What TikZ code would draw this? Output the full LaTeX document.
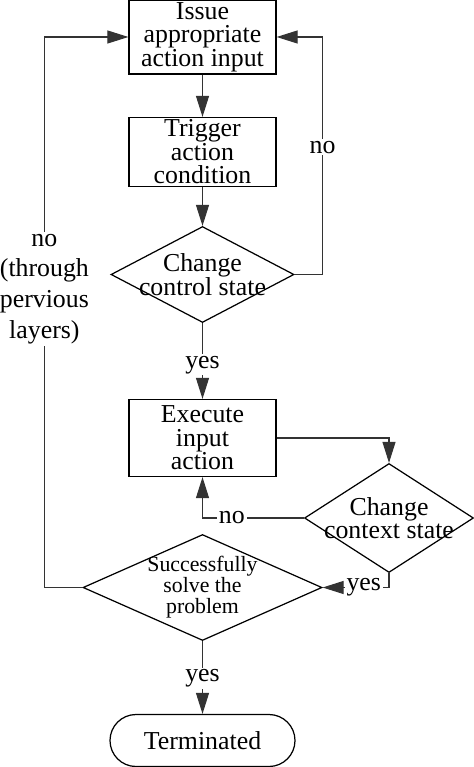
\documentclass[tikz,border=0pt]{standalone}
\usepackage{fontspec}
\setmainfont{Liberation Serif}
\usetikzlibrary{shapes.geometric,arrows.meta,positioning}

\begin{document}
\begin{tikzpicture}[>={Triangle[length=4.2mm,width=2.6mm]}, node distance=2.3cm,
	every node/.style={font=\fontsize{14.7pt}{13.4pt}\selectfont, align=center},
	block/.style={draw, line width=0.7pt, minimum width=2.94cm, inner sep=0pt},
	decision/.style={draw, diamond, line width=0.7pt, inner sep=0pt},
	tag/.style={fill=white, inner sep=1pt},
	flow/.style={->, draw=black!80, line width=0.6pt}]
	\useasboundingbox (0,0) rectangle (9.48,-15.34);
	
	% Bloques
	\node[block, minimum height=1.48cm] (issue) at (4.05,-0.74) {Issue\\appropriate\\action input};
	\node[block, minimum height=1.38cm, below of=issue] (trigger) {Trigger\\action\\condition};
	\node[decision, minimum width=3.66cm, minimum height=1.92cm, below of=trigger, yshift=-0.15cm] (control) {};
	\node (controltext) at (control) {Change\\control state};
	\node[block, minimum height=1.54cm, below of=control, yshift=-0.97cm] (execute) {Execute\\input\\action};
	\node[decision, minimum width=3.38cm, minimum height=2.18cm, right of=execute, xshift=1.43cm, yshift=-1.6cm] (context) {};
	\node (contexttext) at (context) {Change\\context state};
	\node[decision, minimum width=4.78cm, minimum height=2.12cm, below of=execute, yshift=-0.69cm] (solve) {};
	\node[font=\fontsize{12.4pt}{11.9pt}\selectfont] (solvetext) at (solve) {Successfully\\solve the\\problem};
	\node[draw, line width=0.7pt, rounded corners=0.52cm, minimum width=3.7cm, minimum height=1.04cm, below of=solve, yshift=-0.76cm] (term) {Terminated};
	
	% Conexiones
	\draw[flow] (issue) -- (trigger);
	\draw[flow] (trigger) -- (control);
	\draw[flow] (control.east) -- ++(0.56,0) |- (issue.east) node[tag, pos=0.268] {no};
	\draw[flow] (control) -- (execute) node[tag, pos=0.55] {yes};
	\draw[flow] (execute.east) -| (context.north);
	\draw[flow] (context.west) -| (execute.south) node[tag, pos=0.355] {no};
	\draw[flow] (context.south) |- (solve.east) node[tag, pos=0.69] {yes};
	\draw[flow] (solve.west) -- ++(-0.76,0) |- (issue.west) node[tag, pos=0.271, font=\fontsize{14.7pt}{17.6pt}\selectfont] {no\\(through\\pervious\\layers)};
	\draw[flow] (solve) -- (term) node[tag, pos=0.51] {yes};
\end{tikzpicture}
\end{document}
